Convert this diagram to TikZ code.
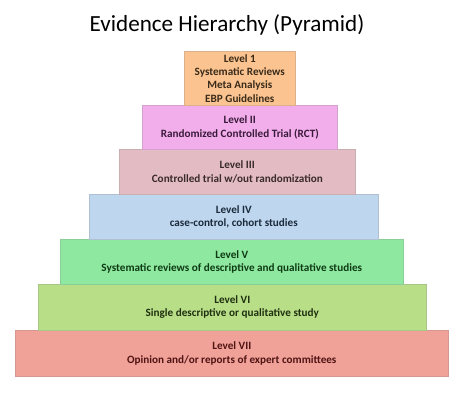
\documentclass[tikz,border=0pt]{standalone}
\usepackage{fontspec}
\setmainfont{Carlito}
\definecolor{c1}{HTML}{FAC38F}
\definecolor{c2}{HTML}{F2AEEA}
\definecolor{c3}{HTML}{E2BCC2}
\definecolor{c4}{HTML}{BED6EE}
\definecolor{c5}{HTML}{8EE8A0}
\definecolor{c6}{HTML}{B8DE88}
\definecolor{c7}{HTML}{F0A198}
\definecolor{t1}{HTML}{3A2A1A}
\definecolor{t2}{HTML}{3A1A3A}
\definecolor{t3}{HTML}{3A2A2A}
\definecolor{t4}{HTML}{1A2A3A}
\definecolor{t5}{HTML}{0E3A14}
\definecolor{t6}{HTML}{203010}
\definecolor{t7}{HTML}{501414}
\tikzset{
  lvl/.style={draw=#1!75!gray, fill=#1, line width=0.6bp, anchor=north west,
    inner sep=0pt, align=center, font=\fontsize{11.2}{13.4}\selectfont\bfseries},
  ttl/.style={font=\fontsize{23.2}{26}\selectfont, inner sep=0pt}
}
\begin{document}
\begin{tikzpicture}[x=1bp,y=-1bp]
\useasboundingbox (0,0) rectangle (474,401);
\node[ttl] (title) at (227,25) {Evidence Hierarchy (Pyramid)};
\node[lvl=c7, minimum width=433bp, minimum height=46bp, text=t7] (l7) at (15,330)
  {Level VII\\Opinion and/or reports of expert committees};
\node[lvl=c6, minimum width=388bp, minimum height=46bp, text=t6] (l6) at (38,284)
  {Level VI\\Single descriptive or qualitative study};
\node[lvl=c5, minimum width=343bp, minimum height=45bp, text=t5] (l5) at (60,239)
  {Level V\\Systematic reviews of descriptive and qualitative studies};
\node[lvl=c4, minimum width=289bp, minimum height=45bp, text=t4] (l4) at (89,194)
  {Level IV\\case-control, cohort studies};
\node[lvl=c3, minimum width=236bp, minimum height=45bp, text=t3] (l3) at (119,149)
  {Level III\\Controlled trial w/out randomization};
\node[lvl=c2, minimum width=195bp, minimum height=44bp, text=t2] (l2) at (142,105)
  {Level II\\Randomized Controlled Trial (RCT)};
\node[lvl=c1, minimum width=111bp, minimum height=54bp, text=t1] (l1) at (184,51)
  {Level 1\\Systematic Reviews\\Meta Analysis\\EBP Guidelines};
\end{tikzpicture}
\end{document}
